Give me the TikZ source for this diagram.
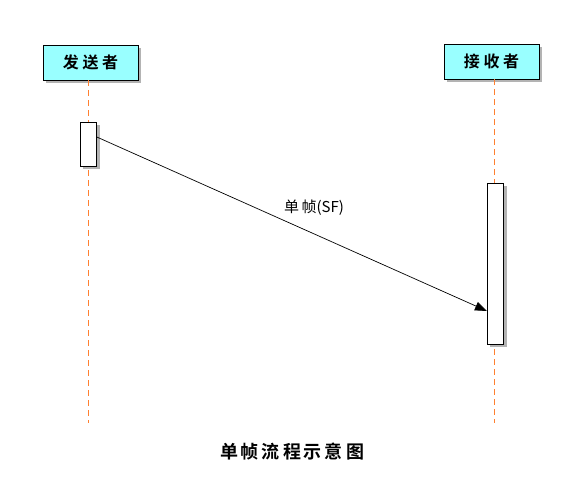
\documentclass[tikz,border=0pt]{standalone}
\usepackage{fontspec}
\newfontfamily\cjk{Noto Sans CJK SC}[BoldFont={Noto Sans CJK SC Bold}]
\usetikzlibrary{shadows,arrows.meta}
\definecolor{partfill}{HTML}{99FFFF}
\definecolor{lifec}{HTML}{FF8030}
\tikzset{
  part/.style={draw=black, line width=1pt, fill=partfill, minimum width=95pt, minimum height=35pt, inner sep=0pt, font=\cjk\bfseries\fontsize{16}{16}\selectfont, drop shadow={shadow xshift=3pt, shadow yshift=-3pt, fill=black!50, opacity=0.6}},
  act/.style={draw=black, line width=0.8pt, fill=white, minimum width=16.5pt, inner sep=0pt, drop shadow={shadow xshift=3pt, shadow yshift=-3pt, fill=black!50, opacity=0.6}},
  life/.style={draw=lifec, dashed, dash pattern=on 6pt off 4pt, line width=0.8pt},
  msg/.style={draw=black, line width=0.7pt, -{Triangle[length=12pt, width=9pt]}},
  lbl/.style={font=\cjk\fontsize{15}{15}\selectfont},
}
\begin{document}
\begin{tikzpicture}[x=1pt,y=-1pt]
\useasboundingbox (0,0) rectangle (586,477);
% lifelines
\coordinate (l1b) at (88.5,423);
\coordinate (l2b) at (494,423);
\node[part] (p1) at (90.5,62.5) {发 送 者};
\node[part] (p2) at (491.5,61.5) {接 收 者};
\draw[life] (88.5,80) -- (l1b);
\draw[life] (494,79) -- (l2b);
\node[act, minimum height=44pt] (a1) at (88.5,144) {};
\node[act, minimum height=161pt] (a2) at (495.3,263.5) {};
\coordinate (s) at (96.8,137);
\coordinate (e) at (487,311);
\draw[msg] (s) -- (e);
\node[lbl] (m) at (314,208) {单\,帧(SF)};
\node[font=\cjk\bfseries\fontsize{18}{18}\selectfont] (t) at (292,452) {单\,帧\,流\,程\,示\,意\,图};
\end{tikzpicture}
\end{document}
